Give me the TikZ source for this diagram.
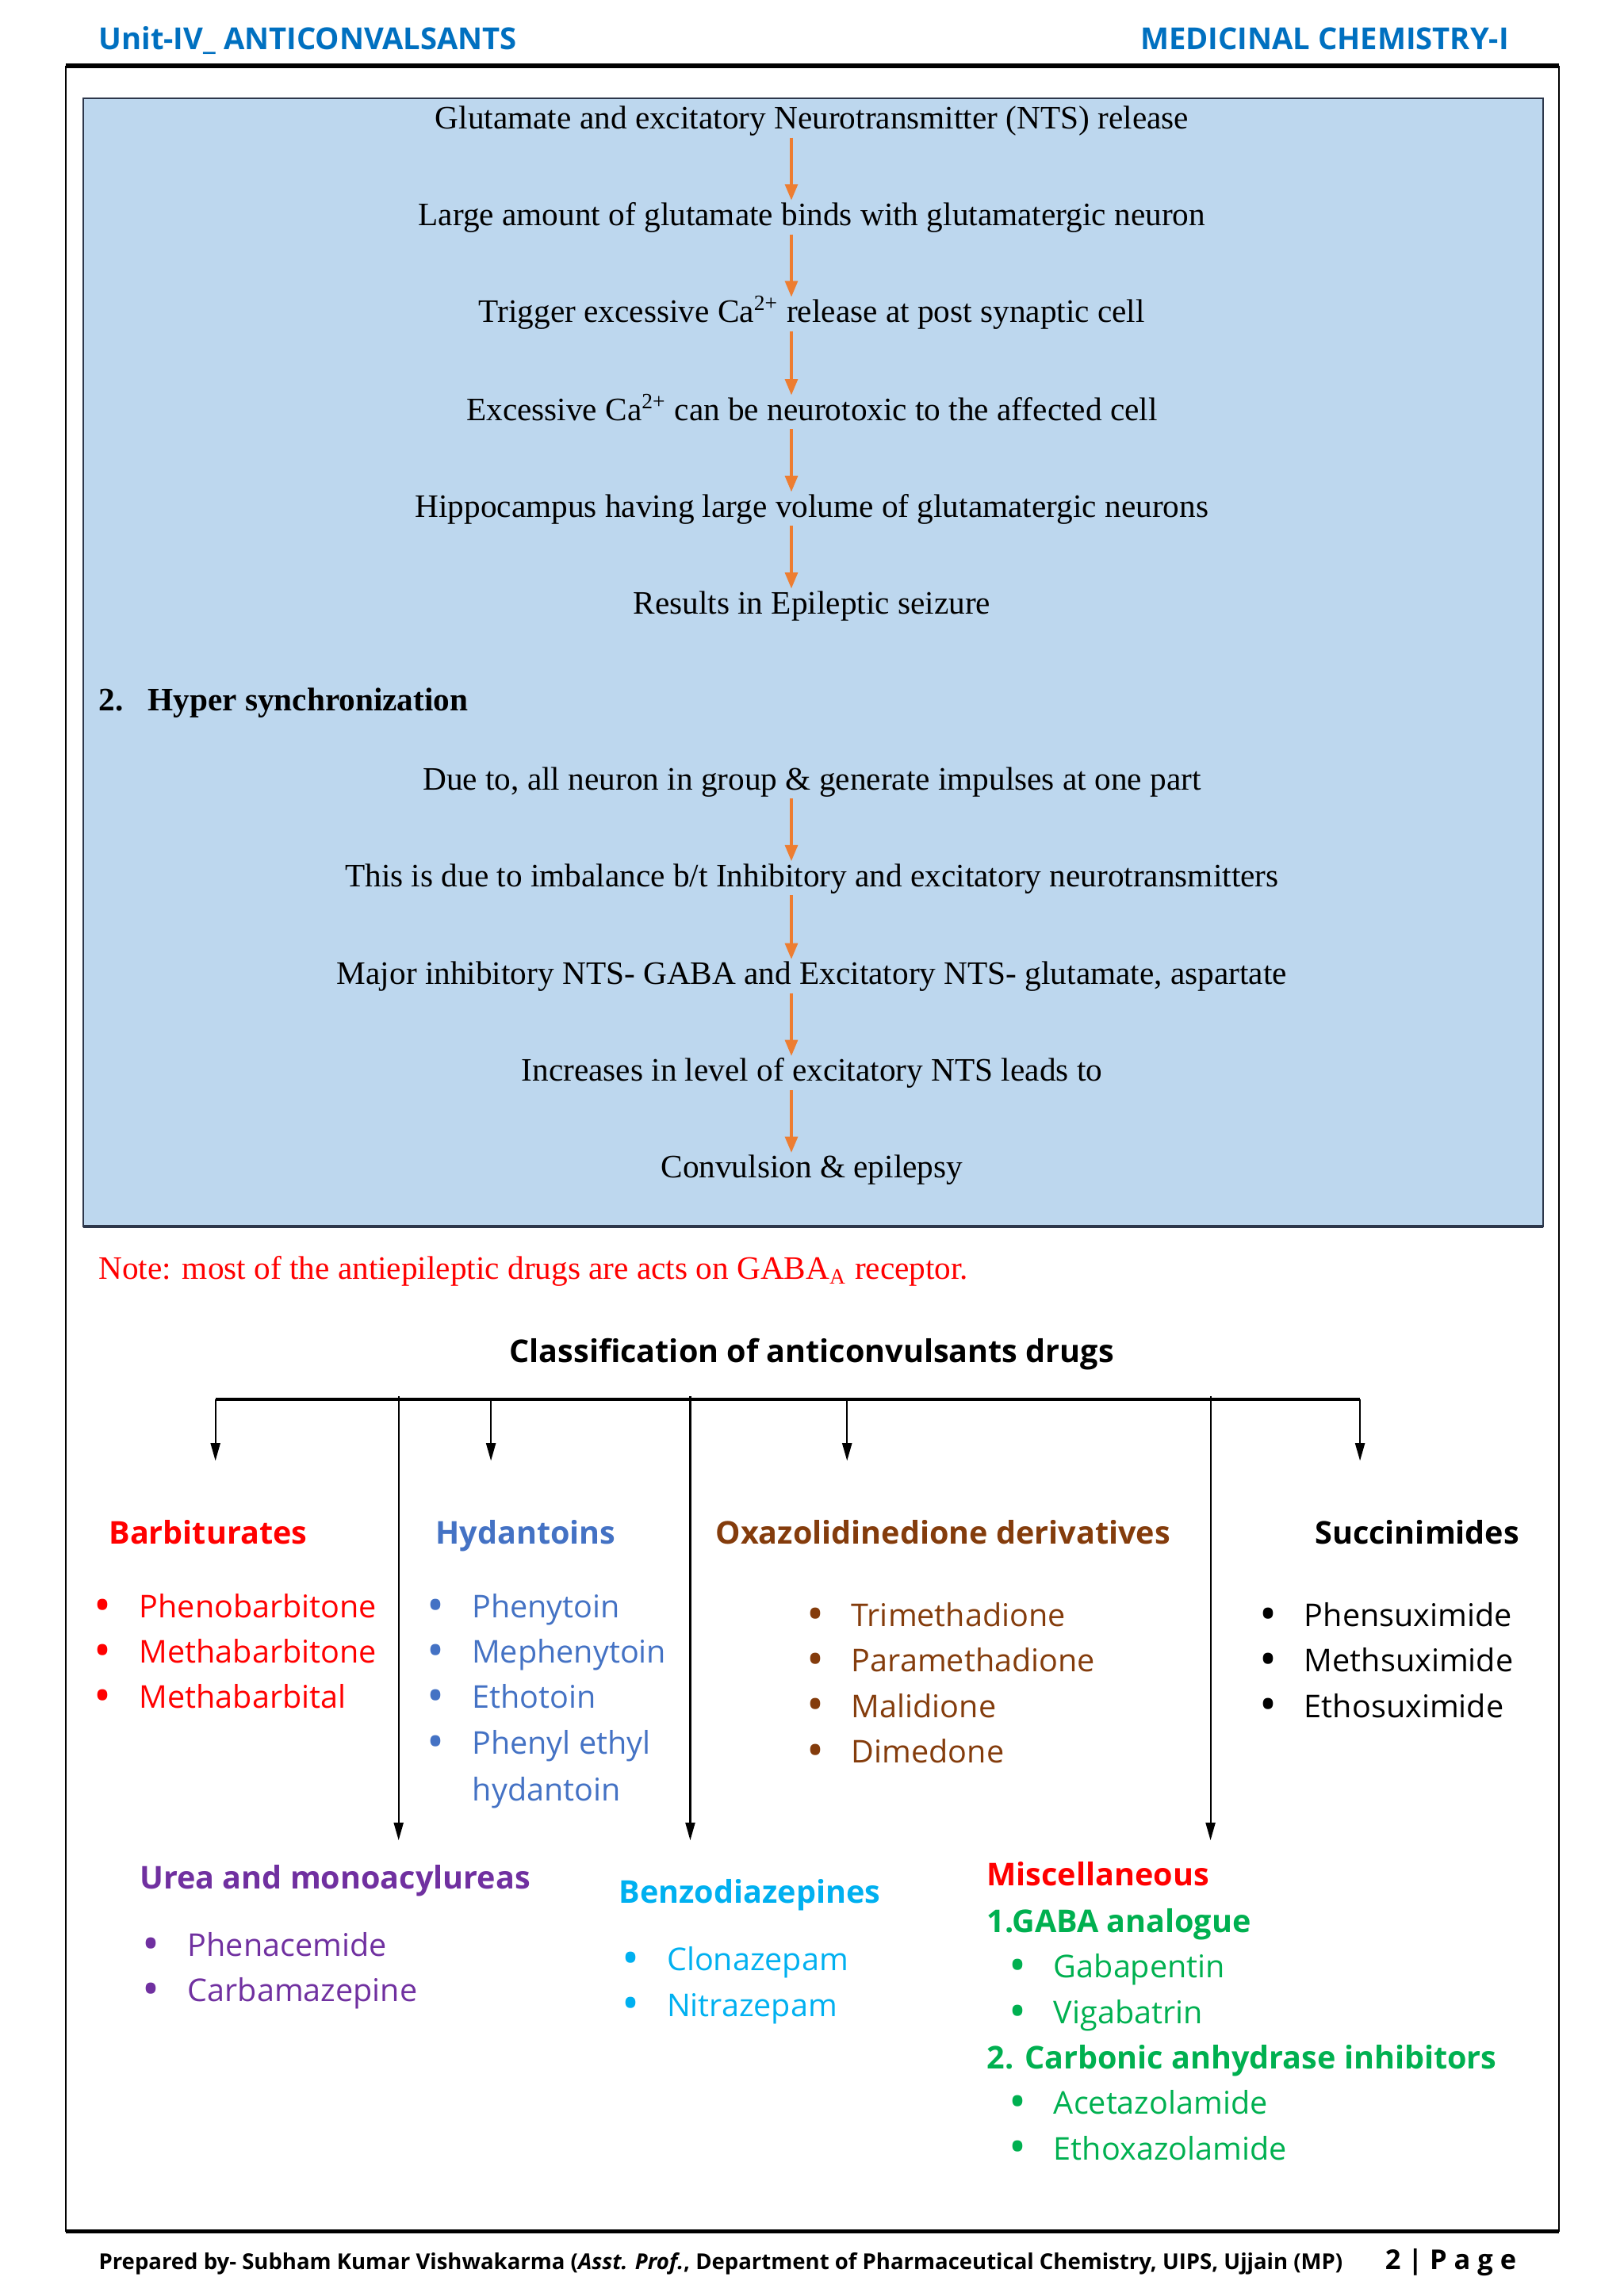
\documentclass[tikz,border=0pt]{standalone}
\usepackage{fontspec}
\setmainfont{Liberation Serif}
\newfontfamily\comicfont{Open Sans}
\usetikzlibrary{arrows.meta, calc, positioning}
\definecolor{hdrblue}{RGB}{0,112,192}
\definecolor{boxblue}{RGB}{189,215,238}
\definecolor{boxedge}{RGB}{45,55,75}
\definecolor{flowarrow}{RGB}{237,125,49}
\definecolor{hydblue}{RGB}{68,114,196}
\definecolor{oxabrown}{RGB}{132,60,12}
\definecolor{ureapurple}{RGB}{112,48,160}
\definecolor{benzcyan}{RGB}{0,176,240}
\definecolor{miscgreen}{RGB}{0,176,80}
\newcommand{\blt}{\makebox[16.5pt][l]{\raisebox{-1.4pt}{\fontsize{17}{17}\selectfont\textbullet}}}

\begin{document}
\begin{tikzpicture}[x=0.5373pt, y=-0.5373pt,
    flow/.style={font=\fontsize{12}{14}\selectfont, anchor=base, inner sep=0pt, text height=9pt, text depth=3pt},
    flowarr/.style={draw=flowarrow, line width=1.3pt, -{Triangle[width=4.5pt,length=6pt]}},
    treearr/.style={line width=0.6pt, -{Triangle[width=3.5pt,length=6.5pt]}},
    head/.style={font=\comicfont\bfseries\fontsize{11.5}{13}\selectfont, anchor=base west, inner sep=0pt},
    drug/.style={font=\comicfont\fontsize{11.5}{13}\selectfont, anchor=base west, inner sep=0pt}]
  \useasboundingbox (0,0) rectangle (1108,1567);

  % page frame and header
  \draw[line width=0.6pt] (45,45) -- (45,1523) (1064,45) -- (1064,1523);
  \draw[line width=1.6pt] (45,45) -- (1064,45) (45,1523) -- (1064,1523);
  \node[head, text=hdrblue, font=\comicfont\bfseries\fontsize{11.1}{12}\selectfont] (unit) at (67,34) {Unit-IV\_ ANTICONVALSANTS};
  \node[head, anchor=base east, text=hdrblue, font=\comicfont\bfseries\fontsize{11.1}{12}\selectfont] (subj) at (1030,34) {MEDICINAL CHEMISTRY-I};

  % blue box
  \fill[boxblue] (57,67) rectangle (1053,837);
  \draw[line width=0.5pt, draw=boxedge] (57,67) rectangle (1053,837);
  \draw[line width=1.3pt, draw=boxedge] (57,837) -- (1053,837);

  % 1. excitation chain
  \node[flow] (g1) at (554,88) {Glutamate and excitatory Neurotransmitter (NTS) release};
  \node[flow] (g2) at (554,154) {Large amount of glutamate binds with glutamatergic neuron};
  \node[flow] (g3) at (554,220) {Trigger excessive Ca\textsuperscript{2+} release at post synaptic cell};
  \node[flow] (g4) at (554,287) {Excessive Ca\textsuperscript{2+} can be neurotoxic to the affected cell};
  \node[flow] (g5) at (554,353) {Hippocampus having large volume of glutamatergic neurons};
  \node[flow] (g6) at (554,419) {Results in Epileptic seizure};

  \node[anchor=base west, inner sep=0pt, font=\bfseries\fontsize{12}{14}\selectfont] (hs) at (67,485) {2.\hspace{9pt}Hyper synchronization};

  % 2. hyper synchronization chain
  \node[flow] (h1) at (554,539) {Due to, all neuron in group \& generate impulses at one part};
  \node[flow] (h2) at (554,605) {This is due to imbalance b/t Inhibitory and excitatory neurotransmitters};
  \node[flow] (h3) at (554,672) {Major inhibitory NTS- GABA and Excitatory NTS- glutamate, aspartate};
  \node[flow] (h4) at (554,738) {Increases in level of excitatory NTS leads to};
  \node[flow] (h5) at (554,804) {Convulsion \& epilepsy};

  \coordinate (ax) at (540,0);
  \foreach \a/\b in {g1/g2,g2/g3,g3/g4,g4/g5,g5/g6,h1/h2,h2/h3,h3/h4,h4/h5}
    \draw[flowarr] (\a.south -| ax) -- (\b.north -| ax);

  \node[anchor=base west, inner sep=0pt, text=red, font=\fontsize{12}{14}\selectfont] (note) at (67,873) {Note: most of the antiepileptic drugs are acts on GABA\textsubscript{A} receptor.};

  % classification tree
  \node[head, anchor=base, font=\comicfont\bfseries\fontsize{11.5}{14}\selectfont] (cls) at (554,930) {Classification of anticonvulsants drugs};
  \coordinate (barL) at (147,955);
  \coordinate (barR) at (928,955);
  \draw[line width=1pt] (barL) -- (barR);
  \foreach \xx/\nm in {147/barb,335/hyd,578/oxa,928/succ} {
    \coordinate (\nm top) at (\xx,955);
    \coordinate (\nm tip) at (\xx,997);
    \draw[treearr] (\nm top) -- (\nm tip);
  }
  \foreach \xx/\nm in {272/urea,471/benz,826/misc} {
    \coordinate (\nm top) at (\xx,953);
    \coordinate (\nm tip) at (\xx,1256);
    \draw[treearr] (\nm top) -- (\nm tip);
  }

  % groups
  \node[head, text=red] (barb) at (74,1054) {Barbiturates};
  \foreach \d [count=\i] in {Phenobarbitone,Methabarbitone,Methabarbital}
    \node[drug, text=red] (barb\i) at (64,1073+31*\i) {\blt\d};

  \node[head, text=hydblue] (hyd) at (297,1054) {Hydantoins};
  \foreach \d [count=\i] in {Phenytoin,Mephenytoin,Ethotoin,Phenyl ethyl}
    \node[drug, text=hydblue] (hyd\i) at (291,1073+31*\i) {\blt\d};
  \node[drug, text=hydblue] (hyd5) at (322,1229) {hydantoin};

  \node[head, text=oxabrown] (oxa) at (488,1054) {Oxazolidinedione derivatives};
  \foreach \d [count=\i] in {Trimethadione,Paramethadione,Malidione,Dimedone}
    \node[drug, text=oxabrown] (oxa\i) at (550,1079+31*\i) {\blt\d};

  \node[head] (succ) at (897,1054) {Succinimides};
  \foreach \d [count=\i] in {Phensuximide,Methsuximide,Ethosuximide}
    \node[drug] (succ\i) at (859,1079+31*\i) {\blt\d};

  \node[head, text=ureapurple] (urea) at (95,1289) {Urea and monoacylureas};
  \foreach \d [count=\i] in {Phenacemide,Carbamazepine}
    \node[drug, text=ureapurple] (urea\i) at (97,1304+31*\i) {\blt\d};

  \node[head, text=benzcyan] (benz) at (422,1299) {Benzodiazepines};
  \foreach \d [count=\i] in {Clonazepam,Nitrazepam}
    \node[drug, text=benzcyan] (benz\i) at (424,1314+31*\i) {\blt\d};

  \node[head, text=red] (misc) at (673,1287) {Miscellaneous};
  \node[head, text=miscgreen] (gaba) at (673,1319) {1.GABA analogue};
  \foreach \d [count=\i] in {Gabapentin,Vigabatrin}
    \node[drug, text=miscgreen] (gaba\i) at (688,1319+31*\i) {\blt\d};
  \node[head, text=miscgreen] (cai) at (673,1412) {2. Carbonic anhydrase inhibitors};
  \foreach \d [count=\i] in {Acetazolamide,Ethoxazolamide}
    \node[drug, text=miscgreen] (cai\i) at (688,1412+31*\i) {\blt\d};

  % footer
  \node[head, font=\comicfont\bfseries\fontsize{8}{10}\selectfont] (prep) at (67,1549) {Prepared by- Subham Kumar Vishwakarma (\textit{Asst. Prof.}, Department of Pharmaceutical Chemistry, UIPS, Ujjain (MP)};
  \node[head, anchor=base east, font=\comicfont\bfseries\fontsize{10}{12}\selectfont] (page) at (1035,1549) {2 | P a g e};
\end{tikzpicture}
\end{document}
